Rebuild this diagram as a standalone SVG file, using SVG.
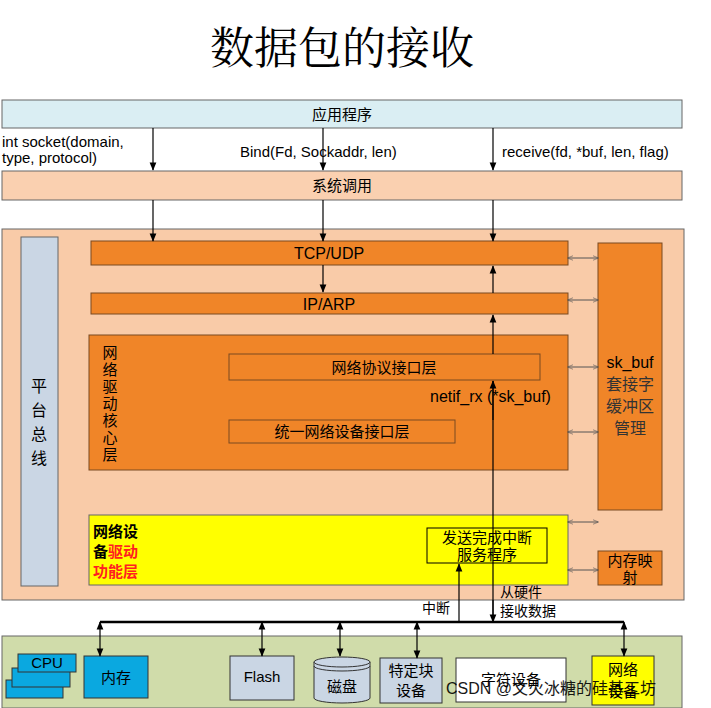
<svg xmlns="http://www.w3.org/2000/svg" width="711" height="708" viewBox="0 0 711 708">
<defs>
<marker id="a" viewBox="0 0 10 10" refX="9" refY="5" markerWidth="7" markerHeight="7" orient="auto-start-reverse"><path d="M0,1 L10,5 L0,9 z" fill="#000"/></marker>
<marker id="s" viewBox="0 0 10 10" refX="9" refY="5" markerWidth="6" markerHeight="6" orient="auto-start-reverse"><path d="M0,1 L10,5 L0,9" fill="none" stroke="#555"/></marker>
</defs>
<style>
text{font-family:"Liberation Sans","Noto Sans CJK SC",sans-serif;fill:#000}
.b{stroke:#666;stroke-width:1}
.o{fill:#f08528;stroke:#7a4a20;stroke-width:1}
.ln{stroke:#000;stroke-width:1.2;fill:none;marker-end:url(#a)}
.dl{stroke:#555;stroke-width:1;fill:none;marker-start:url(#s);marker-end:url(#s)}
.bus{stroke:#000;stroke-width:1.2;fill:none;marker-start:url(#a);marker-end:url(#a)}
</style>
<rect width="711" height="708" fill="#fff"/>
<text x="342" y="64" font-size="44" text-anchor="middle" style="font-family:'Noto Serif CJK SC','Noto Sans CJK SC',serif">数据包的接收</text>
<g id="app"><rect x="2" y="100" width="680" height="28" fill="#daeef3" class="b"/><text x="342" y="120" font-size="15" text-anchor="middle" fill="#333">应用程序</text></g>
<g id="syscall"><rect x="2" y="171" width="680" height="29" fill="#fad0b0" class="b"/><text x="342" y="191" font-size="15" text-anchor="middle">系统调用</text></g>
<g id="kernel"><rect x="2" y="229" width="682" height="371" fill="#f9cba8" class="b"/></g>
<g id="platbus"><rect x="21" y="237" width="37" height="349" fill="#cad6e4" class="b"/>
<text font-size="16" text-anchor="middle" fill="#333"><tspan x="39" y="392">平</tspan><tspan x="39" y="416">台</tspan><tspan x="39" y="440">总</tspan><tspan x="39" y="464">线</tspan></text></g>
<g id="tcp"><rect x="91" y="241" width="477" height="24" class="o"/><text x="329" y="259" font-size="16" text-anchor="middle">TCP/UDP</text></g>
<g id="ip"><rect x="91" y="293" width="477" height="21" class="o"/><text x="329" y="310" font-size="16" text-anchor="middle">IP/ARP</text></g>
<g id="core"><rect x="89" y="335" width="479" height="135" class="o"/>
<text font-size="15" text-anchor="middle" fill="#333"><tspan x="110" y="358">网</tspan><tspan x="110" y="375">络</tspan><tspan x="110" y="392">驱</tspan><tspan x="110" y="409">动</tspan><tspan x="110" y="426">核</tspan><tspan x="110" y="443">心</tspan><tspan x="110" y="460">层</tspan></text>
<rect x="229" y="354" width="311" height="26" class="o"/><text x="384" y="373" font-size="15" text-anchor="middle" fill="#333">网络协议接口层</text>
<rect x="229" y="420" width="226" height="23" class="o"/><text x="342" y="437" font-size="15" text-anchor="middle" fill="#333">统一网络设备接口层</text>
<text x="430" y="402" font-size="16">netif_rx (*sk_buf)</text></g>
<g id="skbuf"><rect x="598" y="243" width="64" height="267" class="o"/>
<text font-size="16" text-anchor="middle"><tspan x="630" y="368">sk_buf</tspan><tspan x="630" y="390" fill="#333">套接字</tspan><tspan x="630" y="412" fill="#333">缓冲区</tspan><tspan x="630" y="434" fill="#333">管理</tspan></text></g>
<g id="driver"><rect x="89" y="515" width="479" height="70" fill="#ffff00" class="b"/>
<text font-size="15" font-weight="bold"><tspan x="93" y="537">网络设</tspan><tspan x="93" y="557">备<tspan fill="#ff2020">驱动</tspan></tspan><tspan x="93" y="577" fill="#ff2020">功能层</tspan></text>
<rect x="427" y="528" width="120" height="35" fill="#ffff00" stroke="#000"/>
<text font-size="15" text-anchor="middle" fill="#333"><tspan x="487" y="543">发送完成中断</tspan><tspan x="487" y="560">服务程序</tspan></text></g>
<g id="memmap"><rect x="598" y="551" width="64" height="34" class="o"/><text font-size="15" text-anchor="middle" fill="#333"><tspan x="630" y="566">内存映</tspan><tspan x="630" y="583">射</tspan></text></g>
<g id="hw"><rect x="2" y="636" width="680" height="72" fill="#d0dcaa" class="b"/></g>
<g id="cpu"><rect x="6" y="680" width="57" height="18" fill="#0aa8e0" stroke="#333"/><rect x="12" y="668" width="58" height="19" fill="#0aa8e0" stroke="#333"/><rect x="18" y="654" width="58" height="18" fill="#0aa8e0" stroke="#333"/><text x="47" y="668" font-size="15" text-anchor="middle">CPU</text></g>
<g id="mem"><rect x="84" y="656" width="64" height="42" fill="#0aa8e0" stroke="#333"/><text x="116" y="683" font-size="15" text-anchor="middle" fill="#222">内存</text></g>
<g id="flash"><rect x="230" y="656" width="64" height="44" fill="#cad6e4" stroke="#333"/><text x="262" y="682" font-size="15" text-anchor="middle">Flash</text></g>
<g id="disk"><path d="M314,662 L314,698 A28,5 0 0 0 370,698 L370,662" fill="#cad6e4" stroke="#333"/><ellipse cx="342" cy="662" rx="28" ry="5" fill="#cad6e4" stroke="#333"/><path d="M314,666 A28,5 0 0 0 370,666" fill="none" stroke="#333"/><text x="342" y="692" font-size="15" text-anchor="middle" fill="#222">磁盘</text></g>
<g id="blk"><rect x="380" y="658" width="62" height="45" fill="#cad6e4" stroke="#333"/><text font-size="15" text-anchor="middle" fill="#222"><tspan x="411" y="676">特定块</tspan><tspan x="411" y="696">设备</tspan></text></g>
<g id="chr"><rect x="456" y="658" width="110" height="44" fill="#fff" stroke="#333"/><text x="511" y="685" font-size="15" text-anchor="middle" fill="#333">字符设备</text></g>
<g id="net"><rect x="592" y="656" width="62" height="49" fill="#ffff00" stroke="#333"/><text font-size="15" text-anchor="middle" fill="#333"><tspan x="623" y="675">网络</tspan><tspan x="623" y="697">设备</tspan></text></g>
<g id="connectors">
<line x1="153" y1="128" x2="153" y2="170" class="ln"/><line x1="323" y1="128" x2="323" y2="170" class="ln"/><line x1="493" y1="128" x2="493" y2="170" class="ln"/>
<line x1="153" y1="200" x2="153" y2="241" class="ln"/><line x1="323" y1="200" x2="323" y2="241" class="ln"/><line x1="493" y1="200" x2="493" y2="241" class="ln"/>
<line x1="323" y1="265" x2="323" y2="292" class="ln"/>
<line x1="493" y1="293" x2="493" y2="266" class="ln"/><line x1="493" y1="354" x2="493" y2="315" class="ln"/>
<line x1="493" y1="381" x2="493" y2="622" stroke="#000" stroke-width="1.2"/>
<line x1="493" y1="420" x2="493" y2="381" class="ln"/>
<line x1="493" y1="600" x2="493" y2="622" class="ln"/>
<line x1="459" y1="622" x2="459" y2="564" class="ln"/>
<line x1="568" y1="258" x2="598" y2="258" class="dl"/><line x1="568" y1="300" x2="598" y2="300" class="dl"/><line x1="568" y1="367" x2="598" y2="367" class="dl"/><line x1="568" y1="432" x2="598" y2="432" class="dl"/><line x1="568" y1="522" x2="598" y2="522" class="dl"/><line x1="568" y1="570" x2="598" y2="570" class="dl"/>
<line x1="100" y1="622" x2="624" y2="622" stroke="#000" stroke-width="2.5"/>
<line x1="100" y1="622" x2="100" y2="656" class="bus"/><line x1="262" y1="622" x2="262" y2="656" class="bus"/><line x1="340" y1="622" x2="340" y2="656" class="bus"/><line x1="417" y1="622" x2="417" y2="658" class="bus"/><line x1="624" y1="622" x2="624" y2="656" class="bus"/>
</g>
<text font-size="15"><tspan x="2" y="147">int socket(domain,</tspan><tspan x="2" y="163">type, protocol)</tspan></text>
<text x="240" y="157" font-size="15">Bind(Fd, Sockaddr, len)</text>
<text x="502" y="157" font-size="15">receive(fd, *buf, len, flag)</text>
<text x="422" y="613" font-size="14" fill="#333">中断</text>
<text font-size="14" fill="#333"><tspan x="500" y="597">从硬件</tspan><tspan x="500" y="616">接收数据</tspan></text>
<text x="446" y="694" font-size="16" fill="#aaa" opacity="0.9">CSDN @文火冰糖的硅基工坊</text>
</svg>
